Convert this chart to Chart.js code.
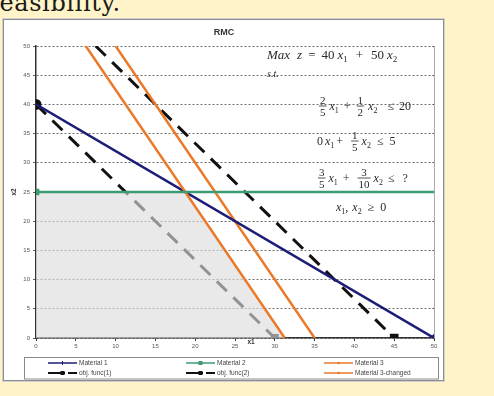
<!DOCTYPE html>
<html>
<head>
<meta charset="utf-8">
<script src="https://cdn.jsdelivr.net/npm/chart.js"></script>
<style>
  body { margin:0; width:494px; height:396px; overflow:hidden; position:relative; background:#fef4c8; }
  #head { position:absolute; left:-10px; top:-9px; font:24px/25px "DejaVu Serif", serif; letter-spacing:0.6px; color:#1a1a1a; white-space:nowrap; }
  #box { position:absolute; left:3px; top:19px; width:439px; height:360px; background:#fff; border:1px solid #8c8c8c; box-shadow:0 0 0 1px #d0d0d0; }
  #c { position:absolute; left:0; top:0; }
</style>
</head>
<body>
<div id="head">feasibility.</div>
<div id="box"></div>
<canvas id="c" width="494" height="396"></canvas>
<script>
// axis ticks (same for both axes)
const tickValues = [0, 5, 10, 15, 20, 25, 30, 35, 40, 45, 50];

// series
const seriesNames = ['Material 1', 'Material 2', 'Material 3', 'obj. func(1)', 'obj. func(2)', 'Material 3-changed'];
const m1X = [0, 50],       m1Y = [40, 0];
const m2X = [0, 50],       m2Y = [25, 25];
const m3X = [10, 35],      m3Y = [50, 0];
const obj1X = [0, 30],     obj1Y = [40, 0];
const obj2X = [7.5, 45],   obj2Y = [50, 0];
const m3cX = [6.25, 31.25], m3cY = [50, 0];
// shaded feasible region (top edge)
const feasX = [0, 18.75, 31.25], feasY = [25, 25, 0];

const pts = (xs, ys) => xs.map((x, i) => ({ x: x, y: ys[i] }));

const navy = '#1d1d78', green = '#3d9a72', orange = '#ea7a2a', black = '#111';

// first dataset = top-most; lower `order` also goes on top
const datasets = [
  {
    label: 'feasible', data: pts(feasX, feasY), fill: 'origin',
    backgroundColor: 'rgba(220,220,220,0.64)', borderWidth: 0, borderColor: 'rgba(0,0,0,0)', pointRadius: 0,
    skipLegend: true
  },
  { label: seriesNames[0], data: pts(m1X, m1Y), borderColor: navy, backgroundColor: navy, borderWidth: 2.5,
    pointRadius: [0, 2.5], pointStyle: 'rectRot', legendMark: 'plus' },
  { label: seriesNames[1], data: pts(m2X, m2Y), borderColor: green, backgroundColor: green, borderWidth: 2.5,
    pointRadius: [3, 0], pointStyle: 'rect', legendMark: 'rect', order: -1 },
  { label: seriesNames[2], data: pts(m3X, m3Y), borderColor: orange, backgroundColor: orange, borderWidth: 2.5,
    pointRadius: 0, legendMark: 'dot' },
  { label: seriesNames[3], data: pts(obj1X, obj1Y), borderColor: black, backgroundColor: black, borderWidth: 3,
    borderDash: [14, 9], pointRadius: [4, 3.5], pointStyle: ['circle', 'rect'], legendMark: 'rect' },
  { label: seriesNames[4], data: pts(obj2X, obj2Y), borderColor: black, backgroundColor: black, borderWidth: 3,
    borderDash: [14, 9], pointRadius: [0, 4], pointStyle: 'rect', legendMark: 'rect' },
  { label: seriesNames[5], data: pts(m3cX, m3cY), borderColor: orange, backgroundColor: orange, borderWidth: 2.5,
    pointRadius: 0, legendMark: 'dot', order: -1 }
];

// small helper for the typeset formulas
function drawMath(ctx, x, base, parts, size) {
  const serif = '"Liberation Serif", serif';
  ctx.textAlign = 'left';
  ctx.textBaseline = 'alphabetic';
  for (const p of parts) {
    if (typeof p === 'number') { x += p; continue; }
    if (typeof p === 'string') {
      ctx.font = size + 'px ' + serif;
      ctx.fillText(p, x, base);
      x += ctx.measureText(p).width;
      continue;
    }
    if (p.v) {
      ctx.font = 'italic ' + size + 'px ' + serif;
      ctx.fillText(p.v, x, base);
      x += ctx.measureText(p.v).width;
      if (p.s) {
        ctx.font = Math.round(size * 0.68) + 'px ' + serif;
        ctx.fillText(p.s, x, base + 3);
        x += ctx.measureText(p.s).width;
      }
      continue;
    }
    if (p.f) {
      ctx.font = (size - 1) + 'px ' + serif;
      const w = Math.max(ctx.measureText(p.f[0]).width, ctx.measureText(p.f[1]).width) + 2;
      const bar = base - 4;
      ctx.textAlign = 'center';
      ctx.fillText(p.f[0], x + w / 2, bar - 2);
      ctx.fillText(p.f[1], x + w / 2, bar + 9.5);
      ctx.textAlign = 'left';
      ctx.fillRect(x, bar - 0.4, w, 0.8);
      x += w;
    }
  }
}

const deco = {
  id: 'deco',
  beforeDatasetsDraw(chart) {
    const { ctx, chartArea: a } = chart;
    ctx.save();
    ctx.strokeStyle = '#a8a8a8';
    ctx.lineWidth = 1;
    ctx.beginPath();
    ctx.moveTo(a.right + 0.5, a.top);
    ctx.lineTo(a.right + 0.5, a.bottom);
    ctx.stroke();
    ctx.restore();
  },
  afterDraw(chart) {
    const ctx = chart.ctx;
    ctx.save();
    // title
    ctx.fillStyle = '#333';
    ctx.font = 'bold 9px "Liberation Sans", Arial';
    ctx.textAlign = 'center';
    ctx.textBaseline = 'middle';
    ctx.fillText('RMC', 224, 33);
    // axis titles
    ctx.font = 'bold 6.5px "Liberation Sans", Arial';
    ctx.fillText('x1', 251, 342);
    ctx.save();
    ctx.translate(14, 192);
    ctx.rotate(-Math.PI / 2);
    ctx.fillText('x2', 0, 0);
    ctx.restore();

    // legend
    ctx.strokeStyle = '#8a8a8a';
    ctx.lineWidth = 1;
    ctx.strokeRect(24.5, 357.5, 414, 21.5);
    const cols = [48, 186, 324], rows = [363, 373];
    let k = 0;
    chart.data.datasets.forEach(ds => {
      if (ds.skipLegend) return;
      const x = cols[k % 3], y = rows[Math.floor(k / 3)];
      k++;
      ctx.strokeStyle = ds.borderColor;
      ctx.fillStyle = ds.borderColor;
      ctx.lineWidth = ds.borderDash ? 1.8 : 1.5;
      ctx.setLineDash(ds.borderDash ? [17, 3] : []);
      ctx.beginPath();
      ctx.moveTo(x, y);
      ctx.lineTo(x + 29, y);
      ctx.stroke();
      ctx.setLineDash([]);
      if (ds.legendMark === 'rect') ctx.fillRect(x + 12.5, y - 2, 4, 4);
      else if (ds.legendMark === 'dot') { ctx.beginPath(); ctx.arc(x + 14.5, y, 1.3, 0, Math.PI * 2); ctx.fill(); }
      else { ctx.fillRect(x + 14, y - 2, 1, 4); }
      ctx.fillStyle = '#444';
      ctx.font = '6.5px "Liberation Sans", Arial';
      ctx.textAlign = 'left';
      ctx.fillText(ds.label, x + 31, y + 0.5);
    });

    // model text
    ctx.fillStyle = '#2a2a2a';
    drawMath(ctx, 267, 59, [{ v: 'Max' }, 7, { v: 'z' }, 6, '=', 6, '40', 3, { v: 'x', s: '1' }, 8, '+', 8, '50', 3, { v: 'x', s: '2' }], 13);
    drawMath(ctx, 267, 77, [{ v: 's.t.' }], 10);
    drawMath(ctx, 319, 110, [{ f: ['2', '5'] }, 3, { v: 'x', s: '1' }, 5, '+', 6, { f: ['1', '2'] }, 4, { v: 'x', s: '2' }, 10, '≤', 5, '20'], 12);
    drawMath(ctx, 317, 145, ['0', 2, { v: 'x', s: '1' }, 2, '+', 8, { f: ['1', '5'] }, 3, { v: 'x', s: '2' }, 6, '≤', 6, '5'], 12);
    drawMath(ctx, 318, 182, [{ f: ['3', '5'] }, 3, { v: 'x', s: '1' }, 5, '+', 8, { f: ['3', '10'] }, 3, { v: 'x', s: '2' }, 5, '≤', 8, '?'], 12);
    drawMath(ctx, 336, 211, [{ v: 'x', s: '1' }, ',', 4, { v: 'x', s: '2' }, 6, '≥', 6, '0'], 12);
    ctx.restore();
  }
};

const tickFont = { family: '"Liberation Sans", Arial', size: 6 };
const setTicks = scale => { scale.ticks = tickValues.map(v => ({ value: v })); };

new Chart(document.getElementById('c'), {
  type: 'line',
  data: { datasets: datasets },
  options: {
    responsive: false,
    animation: false,
    devicePixelRatio: 1,
    elements: { line: { tension: 0 } },
    layout: { padding: { top: 46, right: 60, bottom: 0, left: 0 } },
    plugins: { legend: { display: false }, tooltip: { enabled: false } },
    scales: {
      x: {
        type: 'linear', min: 0, max: 50,
        afterBuildTicks: setTicks,
        afterFit: s => { s.height = 58; },
        ticks: { font: tickFont, color: '#555', padding: 2, maxRotation: 0 },
        grid: { drawOnChartArea: false, tickLength: 3, tickColor: '#333' },
        border: { color: '#333', width: 1.5 }
      },
      y: {
        type: 'linear', min: 0, max: 50,
        afterBuildTicks: setTicks,
        afterFit: s => { s.width = 36; },
        ticks: { font: tickFont, color: '#555', padding: 3 },
        grid: { color: '#4a4a4a', lineWidth: 0.8, tickLength: 3, tickColor: '#333', tickBorderDash: [] },
        border: { color: '#333', width: 1.5, dash: [2, 2] }
      }
    }
  },
  plugins: [deco]
});
</script>
</body>
</html>
